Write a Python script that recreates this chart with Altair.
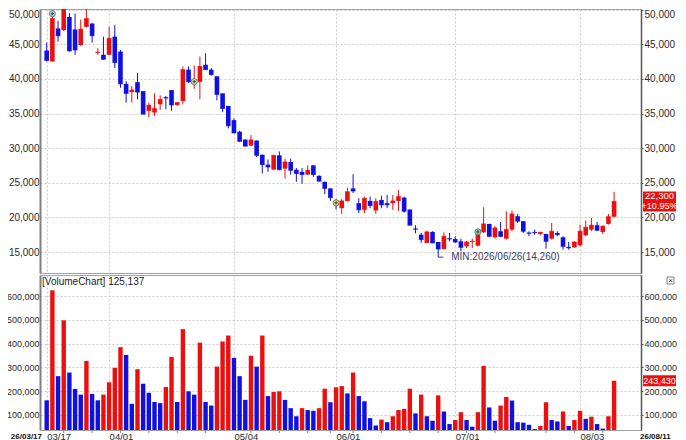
import json
import altair as alt
import pandas as pd

# ---------------- data ----------------
holidays = ["2026-05-01", "2026-05-05", "2026-05-25", "2026-06-03", "2026-07-17"]
days = [d for d in pd.bdate_range("2026-03-17", "2026-08-11")
        if d.strftime("%Y-%m-%d") not in holidays]
dates = [d.strftime("%m/%d") for d in days]

open_ = [44100, 42530, 47290, 47050, 48950, 47140, 44900, 47520, 48000, 43760,
         43480, 43480, 46100, 43950, 39290, 38100, 39530, 38240, 35390, 35150,
         36340, 37340, 38390, 36240, 36810, 41340, 39500, 39580, 42050, 41340,
         40380, 37910, 36100, 34050, 32380, 31240, 30380, 31100, 29050, 27620,
         26900, 28960, 27050, 28000, 26900, 26570, 26190, 27520, 26000, 25140,
         24190, 22380, 21330, 22380, 24190, 22050, 21100, 22380, 21000, 22520,
         22050, 22050, 22380, 22860, 21140, 18380, 17510, 16310, 17900, 16450,
         15440, 16980, 16880, 16550, 15820, 16450, 15920, 17850, 19060, 17130,
         18000, 16930, 18240, 20170, 19450, 17800, 17900, 17610, 17610, 16930,
         17750, 17130, 15750, 15680, 15970, 17420, 18240, 18870, 17900, 19060,
         20100]
high = [45240, 49430, 48380, 51500, 49520, 49430, 48570, 51200, 48100, 44430,
        46100, 47520, 47760, 44190, 39670, 38960, 40860, 38240, 36580, 37910,
        37620, 37530, 38390, 36670, 41810, 41810, 41950, 43240, 43710, 41570,
        40380, 37910, 36100, 34290, 32520, 31240, 31900, 31100, 29050, 28380,
        29050, 29530, 28480, 28480, 27140, 27140, 27520, 27520, 26100, 25140,
        24190, 22670, 22670, 24290, 26240, 22760, 23000, 23000, 22760, 23140,
        23240, 23240, 23950, 23000, 21140, 18870, 17750, 18100, 18000, 16450,
        17850, 17750, 17270, 16930, 16640, 16930, 18380, 21470, 19060, 18720,
        19350, 20890, 20990, 20500, 19450, 18000, 18240, 17900, 17610, 19210,
        18000, 17270, 16450, 16550, 18960, 19550, 19930, 19350, 18870, 20500,
        23700]
low = [42530, 42530, 45380, 46900, 43950, 43480, 44760, 47430, 45240, 43480,
       42760, 43480, 41570, 38720, 36580, 36580, 37050, 34910, 34430, 34670,
       35530, 35620, 35390, 36100, 36340, 39430, 38580, 37050, 41340, 40480,
       36910, 35240, 32860, 32190, 30860, 30290, 30290, 28720, 26330, 26570,
       26810, 26810, 25620, 26190, 25140, 24860, 26100, 25860, 25140, 23380,
       22380, 21140, 20470, 22290, 23520, 20620, 20620, 21330, 20520, 21330,
       21330, 21100, 20950, 20700, 18870, 17700, 16310, 16310, 16310, 14260,
       15340, 16550, 16310, 15100, 15580, 15580, 15820, 17750, 17130, 16930,
       17130, 16790, 18000, 19210, 17750, 17270, 17510, 17400, 15490, 16790,
       17270, 15340, 15340, 15580, 15820, 17270, 18000, 18000, 17610, 18960,
       20020]
close = [42670, 48710, 46240, 50900, 44050, 44190, 47190, 48710, 46240, 43860,
         42860, 45860, 42380, 39290, 37910, 38390, 38100, 34910, 36200, 35720,
         37050, 37240, 36240, 36580, 41340, 39580, 39650, 41810, 41340, 40620,
         37760, 35720, 33240, 32190, 31000, 30290, 31190, 28960, 27620, 27290,
         28960, 26900, 28000, 26810, 26330, 26190, 26810, 26190, 25240, 24190,
         22860, 21810, 22380, 23710, 23810, 21100, 22760, 21710, 22290, 21810,
         21810, 22380, 23000, 20890, 18870, 18280, 16790, 17900, 16310, 15440,
         17270, 16880, 16450, 15680, 16450, 16550, 18000, 19060, 17270, 18480,
         17270, 18240, 20500, 19450, 18000, 17700, 17800, 17850, 16550, 18000,
         17510, 15820, 15600, 16450, 18000, 18580, 18870, 18140, 18720, 20100,
         22300]
volume = [161000, 625000, 263000, 498000, 278000, 209000, 185000, 327000, 188000, 161000,
          185000, 237000, 298000, 385000, 352000, 146000, 292000, 231000, 193000, 154000,
          149000, 217000, 344000, 154000, 461000, 199000, 185000, 404000, 154000, 139000,
          303000, 409000, 434000, 340000, 263000, 163000, 349000, 303000, 434000, 179000,
          196000, 199000, 163000, 128000, 94000, 128000, 120000, 117000, 128000, 210000,
          153000, 216000, 221000, 190000, 278000, 179000, 157000, 86000, 55000, 80000,
          69000, 94000, 120000, 125000, 210000, 106000, 185000, 94000, 75000, 182000,
          114000, 61000, 78000, 111000, 78000, 50000, 111000, 306000, 131000, 75000,
          139000, 175000, 160000, 69000, 67000, 58000, 40000, 53000, 153000, 78000,
          72000, 114000, 53000, 78000, 117000, 83000, 92000, 61000, 42000, 94000,
          243430]

marker_idx = [1, 26, 51, 76]
marker_price = [49430, 39600, 22100, 17900]
marker_fill = ["#9fd9ec", "#d6dd9c", "#ecd86c", "#8fd7c3"]

price_ticks = [15000, 20000, 25000, 30000, 35000, 40000, 45000, 50000]
vol_ticks = [100000, 200000, 300000, 400000, 500000, 600000]
vol_header = "[VolumeChart]  125,137"

# ---------------- frames ----------------
n = len(dates)
df = pd.DataFrame({"i": list(range(n)), "date": dates, "open": open_, "high": high,
                   "low": low, "close": close, "vol": volume})
df["dir"] = ["up" if c >= o else "down" for o, c in zip(open_, close)]
df["vdir"] = ["down"] + ["up" if volume[k] > volume[k - 1] else "down" for k in range(1, n)]

month_idx = [0] + [k for k in range(1, n) if days[k].month != days[k - 1].month]
month_lab = [dates[k] for k in month_idx]
fri_idx = [k for k in range(n) if days[k].weekday() == 4 and k not in month_idx]
wk = pd.DataFrame({"i": fri_idx})

kmin = low.index(min(low))
mn = pd.DataFrame({"i": [kmin], "x2": [kmin + 0.9], "p": [low[kmin]],
                   "t": ["MIN:" + days[kmin].strftime("%Y/%m/%d") + "(" + f"{low[kmin]:,}" + ")"]})
mk = pd.DataFrame({"i": marker_idx, "p": marker_price, "c": marker_fill})

last = pd.DataFrame({"close": [close[-1]],
                     "l1": [f"{close[-1]:,}"],
                     "l2": [f"+{(close[-1] / close[-2] - 1) * 100:.2f}%"],
                     "vol": [volume[-1]],
                     "lv": [f"{volume[-1]:,}"]})

# ---------------- style ----------------
RED, BLUE = "#ea1010", "#1010e0"
GRID = "#cccccc"
FONT = "Liberation Sans"
W, H1, H2 = 601, 264, 155

xs = alt.Scale(domain=[-0.3, 103.86], nice=False, zero=False)
ps = alt.Scale(domain=[11970, 50100], nice=False, zero=False)
vs = alt.Scale(domain=[36000, 689000], nice=False, zero=False)
col = alt.Color("dir:N", scale=alt.Scale(domain=["up", "down"], range=[RED, BLUE]), legend=None)
vcol = alt.Color("vdir:N", scale=alt.Scale(domain=["up", "down"], range=[RED, BLUE]), legend=None)

x_price = alt.X("i:Q", scale=xs, title=None,
                axis=alt.Axis(values=month_idx, labels=False, ticks=False, domain=False,
                              grid=True, gridColor=GRID, gridDash=[2, 2]))
left_price_axis = alt.Axis(orient="left", values=price_ticks, format=",d", grid=True,
                           gridColor=GRID, gridDash=[2, 2], ticks=False, domainColor="#808080",
                           domainWidth=2, labelPadding=1, labelFlush=5, labelFontSize=10, title=None)
right_price_axis = alt.Axis(orient="right", values=price_ticks, format=",d", grid=False,
                            ticks=True, tickSize=2, tickColor="#555", domainColor="#555",
                            domainWidth=1.5, labelPadding=1, labelFlush=5, labelFontSize=10, title=None)


def yp(field):
    return alt.Y(field, scale=ps, axis=left_price_axis, title=None)


def ypr(field):
    return alt.Y(field, scale=ps, axis=right_price_axis, title=None)


base = alt.Chart(df)
wicks = base.mark_rule(strokeWidth=1, clip=True).encode(x=x_price, y=yp("low:Q"), y2="high:Q", color=col)
bodies = base.mark_bar(size=4.6, clip=True).encode(x=x_price, y=yp("open:Q"), y2="close:Q", color=col)
dojis = base.mark_tick(orient="horizontal", size=4.6, thickness=1, clip=True).encode(
    x=x_price, y=yp("close:Q"), color=col)
pts = alt.Chart(mk).mark_point(filled=True, size=38, stroke="#666666", strokeWidth=0.8, opacity=1).encode(
    x=x_price, y=yp("p:Q"), fill=alt.Fill("c:N", scale=None))
crosses = alt.Chart(mk).mark_point(shape="cross", filled=True, size=10, color="#555555", opacity=1).encode(
    x=x_price, y=yp("p:Q"))
min_rule = alt.Chart(mn).mark_rule(color="#3a3a64", strokeWidth=1).encode(
    x=x_price, x2="x2:Q", y=yp("p:Q"))
min_text = alt.Chart(mn).mark_text(align="left", baseline="middle", dx=13, font=FONT,
                                   fontSize=10, color="#3a3a64").encode(
    x=x_price, y=yp("p:Q"), text="t:N")

price_main = alt.layer(wicks, bodies, dojis, pts, crosses, min_rule, min_text)

pbox = alt.Chart(last).mark_rect(color=RED, yOffset=-10, y2Offset=10).encode(
    x=alt.value(W + 2), x2=alt.value(W + 35), y=ypr("close:Q"), y2="close:Q")
pt1 = alt.Chart(last).mark_text(align="center", baseline="middle", dy=-5, font=FONT,
                                fontSize=9.5, color="white").encode(
    x=alt.value(W + 18.5), y=ypr("close:Q"), text="l1:N")
pt2 = alt.Chart(last).mark_text(align="center", baseline="middle", dy=5, font=FONT,
                                fontSize=9, color="white").encode(
    x=alt.value(W + 18.5), y=ypr("close:Q"), text="l2:N")
price_right = alt.layer(pbox, pt1, pt2)

price = alt.layer(price_main, price_right).resolve_scale(y="independent").properties(width=W, height=H1)

# ---------------- volume ----------------
label_expr = json.dumps(month_lab) + "[indexof(" + json.dumps(month_idx) + ", datum.value)]"
x_vol = alt.X("i:Q", scale=xs, title=None,
              axis=alt.Axis(values=month_idx, labelExpr=label_expr, labelAlign="left",
                            labelFlush=False, labelOverlap=False, labelPadding=1, labelFontSize=9.5,
                            ticks=False, domain=False, grid=True, gridColor=GRID, gridDash=[2, 2]))
left_vol_axis = alt.Axis(orient="left", values=vol_ticks, format=",d", grid=True, gridColor=GRID,
                         gridDash=[2, 2], ticks=False, domainColor="#808080", domainWidth=2,
                         labelPadding=1, labelFontSize=9, title=None)
right_vol_axis = alt.Axis(orient="right", values=vol_ticks, format=",d", grid=False, ticks=True,
                          tickSize=2, tickColor="#555", domainColor="#555", domainWidth=1.5,
                          labelPadding=1, labelFontSize=9, title=None)

vbars = base.mark_bar(size=4.4).encode(
    x=x_vol, y=alt.Y("vol:Q", scale=vs, axis=left_vol_axis, title=None),
    y2=alt.Y2Datum(36000), color=vcol)
wticks = alt.Chart(wk).mark_rule(color="#888888", strokeWidth=1).encode(
    x=x_vol, y=alt.value(H2), y2=alt.value(H2 + 3))
header = alt.Chart(pd.DataFrame({"t": [vol_header]})).mark_text(
    align="left", baseline="middle", font=FONT, fontSize=10, color="#222222").encode(
    x=alt.value(2), y=alt.value(7), text="t:N")
corner = pd.DataFrame({"t": ["26" + "/" + days[0].strftime("%m/%d"), "26" + "/" + days[-1].strftime("%m/%d")]})
c_left = alt.Chart(corner.iloc[[0]]).mark_text(
    align="right", baseline="middle", font=FONT, fontSize=8, fontWeight="bold", color="#111111").encode(
    x=alt.value(2), y=alt.value(H2 + 7), text="t:N")
c_right = alt.Chart(corner.iloc[[1]]).mark_text(
    align="left", baseline="middle", font=FONT, fontSize=8, fontWeight="bold", color="#111111").encode(
    x=alt.value(W - 1), y=alt.value(H2 + 7), text="t:N")
xbox = alt.Chart(pd.DataFrame({"t": ["×"]})).mark_rect(fill="white", stroke="#666666", strokeWidth=0.8).encode(
    x=alt.value(W + 26), x2=alt.value(W + 33), y=alt.value(2), y2=alt.value(9))
xtxt = alt.Chart(pd.DataFrame({"t": ["×"]})).mark_text(
    align="center", baseline="middle", font=FONT, fontSize=8, color="#222222").encode(
    x=alt.value(W + 29.5), y=alt.value(5.5), text="t:N")

vol_main = alt.layer(vbars, wticks, header, c_left, c_right, xbox, xtxt)

vbox = alt.Chart(last).mark_rect(color=RED, yOffset=-5.5, y2Offset=5.5).encode(
    x=alt.value(W + 2), x2=alt.value(W + 35),
    y=alt.Y("vol:Q", scale=vs, axis=right_vol_axis, title=None), y2="vol:Q")
vtxt = alt.Chart(last).mark_text(align="center", baseline="middle", font=FONT, fontSize=9,
                                 color="white").encode(
    x=alt.value(W + 18.5), y=alt.Y("vol:Q", scale=vs, axis=right_vol_axis, title=None), text="lv:N")
vol_right = alt.layer(vbox, vtxt)

volume_chart = alt.layer(vol_main, vol_right).resolve_scale(y="independent").properties(width=W, height=H2)

chart = (
    alt.vconcat(price, volume_chart, spacing=0)
    .properties(padding={"left": -3, "top": 0, "right": -1, "bottom": 0}, background="white")
    .configure_view(stroke="#a0a0a0", strokeWidth=1)
    .configure_axis(labelFont=FONT, labelColor="#2a2a2a")
)

chart.save("out.html", embed_options={"renderer": "svg", "actions": False})
